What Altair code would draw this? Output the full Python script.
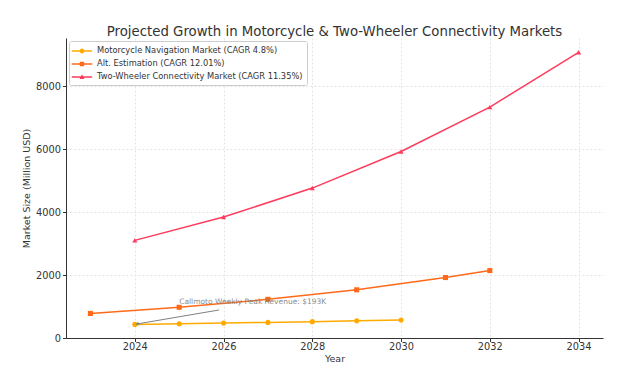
import altair as alt
import pandas as pd

# ---- data ----
moto_years = [2024, 2025, 2026, 2027, 2028, 2029, 2030]
moto_values = [432, 452, 473, 496, 519, 545, 570]

alt_years = [2023, 2025, 2027, 2029, 2031, 2032]
alt_values = [780, 975, 1228, 1530, 1920, 2140]

twc_years = [2024, 2026, 2028, 2030, 2032, 2034]
twc_values = [3100, 3840, 4760, 5920, 7330, 9070]

series_names = [
    "Motorcycle Navigation Market (CAGR 4.8%)",
    "Alt. Estimation (CAGR 12.01%)",
    "Two-Wheeler Connectivity Market (CAGR 11.35%)",
]
series_colors = ["#FFAA00", "#FF6A1A", "#FF3B5C"]
marker_shapes = ["circle", "square", "triangle-up"]

annot_text = ["Callmoto Weekly Peak Revenue: $193K"]
annot_pos = [2025.0, 1140]
arrow_from = [2025.9, 890]
arrow_to = [2024.05, 445]

x_ticks = [2024, 2026, 2028, 2030, 2032, 2034]
y_ticks = [0, 2000, 4000, 6000, 8000]

# ---- tables ----
rows = []
for name, ys, vs in zip(series_names, [moto_years, alt_years, twc_years],
                        [moto_values, alt_values, twc_values]):
    for y, v in zip(ys, vs):
        rows.append({"series": name, "year": y, "value": v})
df = pd.DataFrame(rows)

x_scale = alt.Scale(domain=[2022.45, 2034.55], nice=False, zero=False)
y_scale = alt.Scale(domain=[0, 9525], nice=False)

X = alt.X("year:Q", scale=x_scale, title="Year",
          axis=alt.Axis(values=x_ticks, format="d"))
Y = alt.Y("value:Q", scale=y_scale, title="Market Size (Million USD)",
          axis=alt.Axis(values=y_ticks, format="d"))

base = alt.Chart(df)

layers = []
for name, col, shp in zip(series_names, series_colors, marker_shapes):
    sub = base.transform_filter(alt.datum.series == name)
    layers.append(sub.mark_line(strokeWidth=1.5, color=col).encode(x=X, y=Y))
    layers.append(sub.mark_point(filled=True, opacity=1, size=26, shape=shp,
                                 color=col).encode(x=X, y=Y))

# legend symbol paths: a thin line plus the marker
bar = "M-1.7,-0.12H1.7V0.12H-1.7Z"
legend_paths = [
    bar + "M0.4,0A0.4,0.4 0 1,1 -0.4,0A0.4,0.4 0 1,1 0.4,0Z",
    bar + "M-0.37,-0.37H0.37V0.37H-0.37Z",
    bar + "M0,-0.45L0.42,0.32H-0.42Z",
]
legend_layer = base.transform_filter("false").mark_point(
    filled=True, opacity=1
).encode(
    x=X, y=Y,
    color=alt.Color("series:N",
                    scale=alt.Scale(domain=series_names, range=series_colors),
                    legend=alt.Legend(title=None, orient="top-left")),
    shape=alt.Shape("series:N",
                    scale=alt.Scale(domain=series_names, range=legend_paths),
                    legend=alt.Legend(title=None, orient="top-left")),
)

adf = pd.DataFrame({"x": [arrow_from[0]], "y": [arrow_from[1]],
                    "x2": [arrow_to[0]], "y2": [arrow_to[1]]})
arrow = alt.Chart(adf).mark_rule(color="#808080", strokeWidth=1).encode(
    x=alt.X("x:Q", scale=x_scale), y=alt.Y("y:Q", scale=y_scale),
    x2="x2:Q", y2="y2:Q")
head = alt.Chart(adf).mark_point(shape="triangle-up", filled=True,
                                 color="#808080", size=14, angle=260,
                                 opacity=1).encode(
    x=alt.X("x2:Q", scale=x_scale), y=alt.Y("y2:Q", scale=y_scale))

tdf = pd.DataFrame({"x": [annot_pos[0]], "y": [annot_pos[1]], "t": annot_text})
annot = alt.Chart(tdf).mark_text(align="left", baseline="middle",
                                 fontSize=7.5, color="#808080",
                                 font="DejaVu Sans", opacity=0.9).encode(
    x=alt.X("x:Q", scale=x_scale), y=alt.Y("y:Q", scale=y_scale), text="t:N")

chart = alt.layer(*layers, legend_layer, arrow, head, annot).properties(
    width=537, height=300,
    title=alt.TitleParams(
        "Projected Growth in Motorcycle & Two-Wheeler Connectivity Markets",
        fontSize=13.3, font="DejaVu Sans", fontWeight="normal",
        color="#333333", anchor="middle", offset=0),
    autosize=alt.AutoSizeParams(type="none"),
    padding={"left": 58, "top": 30, "right": 9, "bottom": 26},
).configure_view(stroke=None).configure_axis(
    labelFont="DejaVu Sans", titleFont="DejaVu Sans",
    labelFontSize=9.8, titleFontSize=9.5, titleFontWeight="normal",
    labelColor="#333333", titleColor="#333333",
    domainColor="#333333", tickColor="#333333",
    gridColor="#dddddd", gridDash=[2, 2], gridWidth=0.8,
    tickSize=3.5, labelPadding=2,
).configure_axisX(titlePadding=2, labelPadding=0).configure_axisY(titlePadding=4).configure_legend(
    labelFont="DejaVu Sans", labelFontSize=8.3, labelColor="#333333",
    labelLimit=0, symbolSize=144, symbolStrokeWidth=0, symbolOffset=3,
    strokeColor="#cccccc", fillColor="white", padding=4, cornerRadius=2,
    rowPadding=3, labelOffset=9, offset=3,
)

chart.save("out.html", embed_options={"renderer": "svg", "actions": False})
